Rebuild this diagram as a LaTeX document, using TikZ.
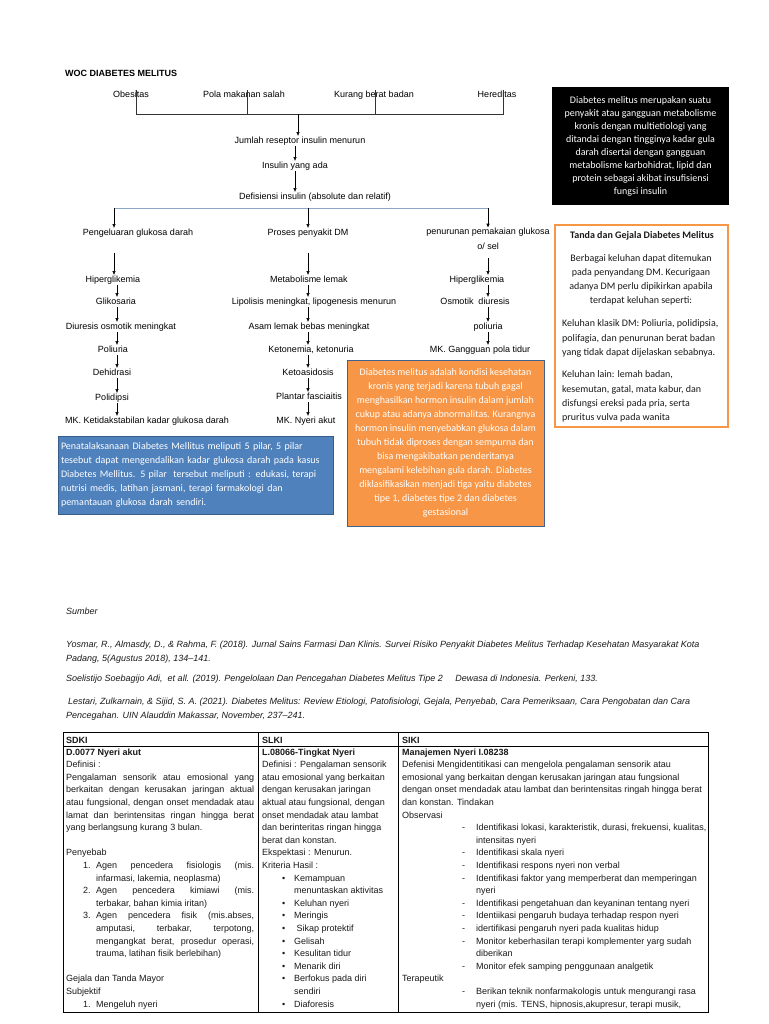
\documentclass[tikz,border=0pt]{standalone}
\usepackage{fontspec}
\setmainfont{Liberation Sans}
\newfontfamily\calibri{Carlito}
\usetikzlibrary{arrows.meta,shadows}
\definecolor{boxblue}{HTML}{4F81BD}
\definecolor{boxblueline}{HTML}{385D8A}
\definecolor{boxorange}{HTML}{F79646}
\definecolor{boxorangeline}{HTML}{41628F}
\definecolor{busblue}{HTML}{8AA6C8}
\definecolor{txt}{HTML}{1A1A1A}
% justified line, list number, bullet and dash
\newcommand{\jline}[2]{\makebox[#1pt][s]{#2}}
\newcommand{\nr}[1]{\makebox[13pt][l]{#1}}
\newcommand{\bul}{\makebox[12pt][l]{\textbullet}}
\newcommand{\dsh}{\makebox[14pt][l]{-}}
\begin{document}
\begin{tikzpicture}[x=1pt,y=-1pt,
  lbl/.style={inner sep=0.5pt, text height=6.5pt, text depth=1.9pt, font=\fontsize{9}{11}\selectfont, text=black},
  cell/.style={anchor=base west, inner sep=0pt, font=\fontsize{9}{11}\selectfont, text=txt},
  arr/.style={-{Latex[length=4pt,width=3.4pt]}, line width=0.6pt},
  bus/.style={line width=0.6pt, draw=black!80},
  busline/.style={line width=0.9pt, draw=busblue},
  boxtxt/.style={font=\calibri\fontsize{10}{14}\selectfont, text=white},
  shade/.style={drop shadow={shadow xshift=1.2pt,shadow yshift=-1.2pt,opacity=0.3}},
  tbl/.style={line width=0.8pt, draw=black}]
\useasboundingbox[fill=white] (0,0) rectangle (768,1024);

\node[anchor=west, inner sep=0pt, font=\bfseries\fontsize{9}{11}\selectfont] (title) at (65,73) {WOC DIABETES MELITUS};

% causes
\node[lbl] (ob) at (131,95){Obesitas};
\node[lbl] (pm) at (244,95){Pola makanan salah};
\node[lbl] (kb) at (374,95){Kurang berat badan};
\node[lbl] (he) at (497,95){Hereditas};
\coordinate (j1) at (298,114);
\draw[bus] ([xshift=5pt]ob.north) |- (j1);
\draw[bus] ([xshift=6pt]he.north) |- (j1);
\draw[bus] ([xshift=3pt]pm.north) -- ([xshift=3pt]pm.north |- j1);
\draw[bus] ([xshift=1pt]kb.north) -- ([xshift=1pt]kb.north |- j1);

\node[lbl] (jr) at (300,141){Jumlah reseptor insulin menurun};
\node[lbl] (ia) at (295,166){Insulin yang ada};
\node[lbl] (df) at (315,197){Defisiensi insulin (absolute dan relatif)};
\draw[arr] (j1) -- (j1 |- jr.north);
\draw[arr] (jr.south -| ia.north) -- (ia.north);
\draw[arr] (ia.south) -- (ia.south |- df.north);

% three branches
\coordinate (j2) at (308,208);
\coordinate (xa) at (114,0);
\coordinate (xb) at (117,0);
\coordinate (xm) at (308,0);
\coordinate (xr) at (488,0);

\node[lbl] (l0) at (138,233){Pengeluaran glukosa darah};
\node[lbl] (l1) at (113,280){Hiperglikemia};
\node[lbl] (l2) at (116,302){Glikosaria};
\node[lbl] (l3) at (121,327){Diuresis osmotik meningkat};
\node[lbl] (l4) at (113,350){Poliuria};
\node[lbl] (l5) at (112,373){Dehidrasi};
\node[lbl] (l6) at (112,398){Polidipsi};
\node[lbl] (l7) at (147,421){MK. Ketidakstabilan kadar glukosa darah};

\node[lbl] (m0) at (308,233){Proses penyakit DM};
\node[lbl] (m1) at (309,280){Metabolisme lemak};
\node[lbl] (m2) at (314,302){Lipolisis meningkat, lipogenesis menurun};
\node[lbl] (m3) at (309,327){Asam lemak bebas meningkat};
\node[lbl] (m4) at (311,350){Ketonemia, ketonuria};
\node[lbl] (m5) at (308,373){Ketoasidosis};
\node[lbl] (m6) at (309,397){Plantar fasciaitis};
\node[lbl] (m7) at (306,421){MK. Nyeri akut};

\node[inner sep=0.5pt, align=center, font=\fontsize{9}{14.5}\selectfont] (r0) at (488,239){penurunan pemakaian glukosa\\o/ sel};
\node[lbl] (r1) at (477,280){Hiperglikemia};
\node[lbl] (r2) at (475,302){Osmotik\ \ diuresis};
\node[lbl] (r3) at (488,327){poliuria};
\node[lbl] (r4) at (480,350){MK. Gangguan pola tidur};

\draw[busline] (xa |- j2) -- (xr |- j2);
\foreach \c/\n in {xa/l0, xm/m0, xr/r0}
  \draw[arr] (\c |- j2) -- (\c |- \n.north);
\draw[arr] ([yshift=-15pt]xa |- l0.south) -- (xa |- l1.north);
\draw[arr] ([yshift=-15pt]xm |- m0.south) -- (xm |- m1.north);
\draw[arr] ([yshift=-8pt]xr |- r0.south) -- (xr |- r1.north);
\foreach \a/\b in {l1/l2,l2/l3,l3/l4,l4/l5,l5/l6,l6/l7}
  \draw[arr] (xb |- \a.south) -- (xb |- \b.north);
\foreach \a/\b in {m1/m2,m2/m3,m3/m4,m4/m5,m5/m6,m6/m7}
  \draw[arr] (xm |- \a.south) -- (xm |- \b.north);
\foreach \a/\b in {r1/r2,r2/r3,r3/r4}
  \draw[arr] (xr |- \a.south) -- (xr |- \b.north);

% info boxes
\node[fill=black, minimum width=177pt, minimum height=118pt, inner sep=0pt, boxtxt,
  align=center, font=\calibri\fontsize{10}{13}\selectfont] (defdm) at (640.5,146)
  {Diabetes melitus merupakan suatu\\penyakit atau gangguan metabolisme\\kronis dengan multietiologi yang\\ditandai dengan tingginya kadar gula\\darah disertai dengan gangguan\\metabolisme karbohidrat, lipid dan\\protein sebagai akibat insufisiensi\\fungsi insulin};

\node[shade, draw=boxorange, line width=1.5pt, fill=white, minimum width=173pt, minimum height=202pt] (signs) at (641.5,326){};
\node[inner sep=0pt, font=\calibri\bfseries\fontsize{10}{14}\selectfont, text=txt] (signt) at (642,236){Tanda dan Gejala Diabetes Melitus};
\node[inner sep=0pt, align=center, font=\calibri\fontsize{10}{14}\selectfont, text=txt] (signa) at (641,280)
  {Berbagai keluhan dapat ditemukan\\pada penyandang DM. Kecurigaan\\adanya DM perlu dipikirkan apabila\\terdapat keluhan seperti:};
\node[anchor=west, inner sep=0pt, align=left, font=\calibri\fontsize{10}{14.5}\selectfont, text=txt] (signb) at (562,338.5)
  {Keluhan klasik DM: Poliuria, polidipsia,\\polifagia, dan penurunan berat badan\\yang tidak dapat dijelaskan sebabnya.};
\node[anchor=west, inner sep=0pt, align=left, font=\calibri\fontsize{10}{14.3}\selectfont, text=txt] (signc) at (562,396.5)
  {Keluhan lain: lemah badan,\\kesemutan, gatal, mata kabur, dan\\disfungsi ereksi pada pria, serta\\pruritus vulva pada wanita};

\node[shade, fill=boxblue, draw=boxblueline, line width=0.8pt, minimum width=275pt, minimum height=78pt,
  inner sep=3pt, text width=269pt, align=left, boxtxt] (mgmt) at (195.5,475)
  {Penatalaksanaan Diabetes Mellitus meliputi 5 pilar, 5 pilar\\tesebut dapat mengendalikan kadar glukosa darah pada kasus\\Diabetes Mellitus. 5 pilar\ \ tersebut meliputi : edukasi, terapi\\nutrisi medis, latihan jasmani, terapi farmakologi dan\\pemantauan glukosa darah sendiri.};

\node[shade, fill=boxorange, draw=boxorangeline, line width=1pt, minimum width=197pt, minimum height=166pt,
  inner sep=0pt, align=center, boxtxt] (about) at (445.5,443)
  {Diabetes melitus adalah kondisi kesehatan\\kronis yang terjadi karena tubuh gagal\\menghasilkan hormon insulin dalam jumlah\\cukup atau adanya abnormalitas. Kurangnya\\hormon insulin menyebabkan glukosa dalam\\tubuh tidak diproses dengan sempurna dan\\bisa mengakibatkan penderitanya\\mengalami kelebihan gula darah. Diabetes\\diklasifikasikan menjadi tiga yaitu diabetes\\tipe 1, diabetes tipe 2 dan diabetes\\gestasional};

% sources
\node[cell, font=\itshape\fontsize{9}{11}\selectfont] (src) at (66,614){Sumber};
\node[cell, font=\itshape\fontsize{9}{11}\selectfont] (ref1) at (66,647){Yosmar, R., Almasdy, D., \& Rahma, F. (2018). Jurnal Sains Farmasi Dan Klinis. Survei Risiko Penyakit Diabetes Melitus Terhadap Kesehatan Masyarakat Kota};
\node[cell, font=\itshape\fontsize{9}{11}\selectfont] (ref1b) at (66,661){Padang, 5(Agustus 2018), 134–141.};
\node[cell, font=\itshape\fontsize{9}{11}\selectfont] (ref2) at (66,681){Soelistijo Soebagijo Adi,\ \ et all. (2019). Pengelolaan Dan Pencegahan Diabetes Melitus Tipe 2\ \ \ \ \ Dewasa di Indonesia. Perkeni, 133.};
\node[cell, font=\itshape\fontsize{9}{11}\selectfont] (ref3) at (68,704){Lestari, Zulkarnain, \& Sijid, S. A. (2021). Diabetes Melitus: Review Etiologi, Patofisiologi, Gejala, Penyebab, Cara Pemeriksaan, Cara Pengobatan dan Cara};
\node[cell, font=\itshape\fontsize{9}{11}\selectfont] (ref3b) at (66,718){Pencegahan. UIN Alauddin Makassar, November, 237–241.};

% table
\draw[tbl] (63,732) rectangle (708,1012);
\draw[tbl] (63,746) -- (708,746);
\draw[tbl] (258,732) -- (258,1012);
\draw[tbl] (398,732) -- (398,1012);
\node[cell, font=\bfseries\fontsize{9}{11}\selectfont] (hsdki) at (66,743){SDKI};
\node[cell, font=\bfseries\fontsize{9}{11}\selectfont] (hslki) at (262,743){SLKI};
\node[cell, font=\bfseries\fontsize{9}{11}\selectfont] (hsiki) at (402,743){SIKI};

\foreach \k/\x/\t in {
  0/66/{\textbf{D.0077 Nyeri akut}},
  1/66/{Definisi :},
  2/66/{\jline{188}{Pengalaman sensorik atau emosional yang}},
  3/66/{\jline{188}{berkaitan dengan kerusakan jaringan aktual}},
  4/66/{\jline{188}{atau fungsional, dengan onset mendadak atau}},
  5/66/{\jline{188}{lamat dan berintensitas ringan hingga berat}},
  6/66/{yang berlangsung kurang 3 bulan.},
  8/66/{Penyebab},
  9/83/{\nr{1.}\jline{158}{Agen pencedera fisiologis (mis.}},
  10/96/{infarmasi, lakemia, neoplasma)},
  11/83/{\nr{2.}\jline{158}{Agen pencedera kimiawi (mis.}},
  12/96/{terbakar, bahan kimia iritan)},
  13/83/{\nr{3.}\jline{158}{Agen pencedera fisik (mis.abses,}},
  14/96/{\jline{158}{amputasi, terbakar, terpotong,}},
  15/96/{\jline{158}{mengangkat berat, prosedur operasi,}},
  16/96/{trauma, latihan fisik berlebihan)},
  18/66/{Gejala dan Tanda Mayor},
  19/66/{Subjektif},
  20/83/{\nr{1.}Mengeluh nyeri}}
  \node[cell] (sdki\k) at (\x,{755+12.6*\k}){\t};

\foreach \k/\x/\t in {
  0/262/{\textbf{L.08066-Tingkat Nyeri}},
  1/262/{Definisi : Pengalaman sensorik},
  2/262/{atau emosional yang berkaitan},
  3/262/{dengan kerusakan jaringan},
  4/262/{aktual atau fungsional, dengan},
  5/262/{onset mendadak atau lambat},
  6/262/{dan berinteritas ringan hingga},
  7/262/{berat dan konstan.},
  8/262/{Ekspektasi : Menurun.},
  9/262/{Kriteria Hasil :},
  10/282/{\bul Kemampuan},
  11/294/{menuntaskan aktivitas},
  12/282/{\bul Keluhan nyeri},
  13/282/{\bul Meringis},
  14/282/{\bul\hspace{2.5pt}Sikap protektif},
  15/282/{\bul Gelisah},
  16/282/{\bul Kesulitan tidur},
  17/282/{\bul Menarik diri},
  18/282/{\bul Berfokus pada diri},
  19/294/{sendiri},
  20/282/{\bul Diaforesis}}
  \node[cell] (slki\k) at (\x,{755+12.6*\k}){\t};

\foreach \k/\x/\t in {
  0/402/{\textbf{Manajemen Nyeri I.08238}},
  1/402/{Defenisi Mengidentitikasi can mengelola pengalaman sensorik atau},
  2/402/{emosional yang berkaitan dengan kerusakan jaringan atau fungsional},
  3/402/{dengan onset mendadak atau lambat dan berintensitas ringah hingga berat},
  4/402/{dan konstan. Tindakan},
  5/402/{Observasi},
  6/462/{\dsh Identifikasi lokasi, karakteristik, durasi, frekuensi, kualitas,},
  7/476/{intensitas nyeri},
  8/462/{\dsh Identifikasi skala nyeri},
  9/462/{\dsh Identifikasi respons nyeri non verbal},
  10/462/{\dsh Identifikasi faktor yang memperberat dan memperingan},
  11/476/{nyeri},
  12/462/{\dsh Identifikasi pengetahuan dan keyaninan tentang nyeri},
  13/462/{\dsh Identiikasi pengaruh budaya terhadap respon nyeri},
  14/462/{\dsh idertifikasi pengaruh nyeri pada kualitas hidup},
  15/462/{\dsh Monitor keberhasilan terapi komplementer yarg sudah},
  16/476/{diberikan},
  17/462/{\dsh Monitor efek samping penggunaan analgetik},
  18/402/{Terapeutik},
  19/462/{\dsh Berikan teknik nonfarmakologis untuk mengurangi rasa},
  20/476/{nyeri (mis. TENS, hipnosis,akupresur, terapi musik,}}
  \node[cell] (siki\k) at (\x,{755+12.6*\k}){\t};
\end{tikzpicture}
\end{document}
